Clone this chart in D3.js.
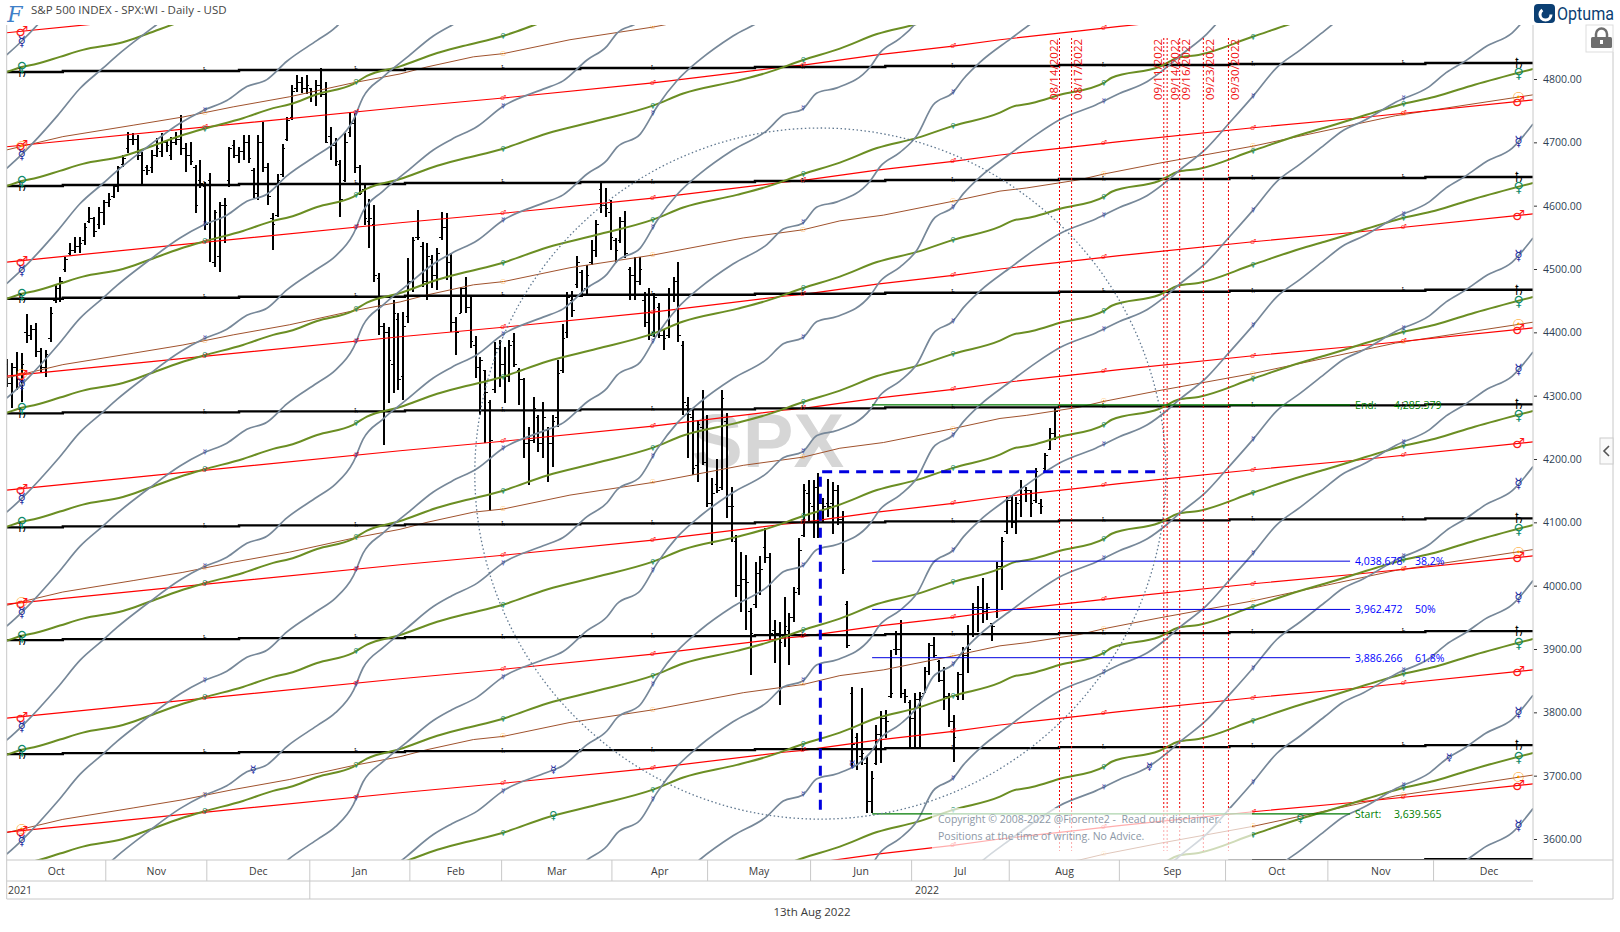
<!DOCTYPE html>
<html>
<head>
<meta charset="utf-8">
<script src="https://cdnjs.cloudflare.com/ajax/libs/d3/7.8.5/d3.min.js"></script>
<style>
  body { margin: 0; background: #fff; }
  text { font-family: "Open Sans", sans-serif; }
</style>
</head>
<body>
<div id="chart"></div>
<script>
// daily SPX bars
let barHighs = [
  4358,4352,4369,4367,4429,4412,4415,4375,4372,4440,
  4475,4487,4519,4541,4550,4550,4573,4598,4582,4598,
  4609,4620,4633,4663,4680,4716,4715,4712,4685,4664,
  4688,4707,4715,4704,4708,4716,4743,4699,4700,4664,
  4672,4637,4651,4593,4606,4612,4693,4704,4693,4712,
  4712,4659,4712,4732,4667,4588,4650,4697,4740,4790,
  4806,4803,4806,4786,4798,4817,4795,4724,4707,4672,
  4715,4746,4746,4664,4633,4610,4601,4494,4415,4408,
  4451,4431,4432,4517,4550,4593,4543,4541,4522,4533,
  4590,4588,4525,4424,4472,4487,4456,4394,4361,4340,
  4293,4385,4388,4377,4388,4399,4344,4328,4250,4298,
  4269,4290,4250,4269,4356,4413,4464,4465,4520,4498,
  4506,4546,4577,4636,4628,4609,4549,4582,4592,4503,
  4519,4519,4464,4470,4462,4446,4404,4470,4487,4511,
  4386,4298,4277,4262,4309,4269,4170,4200,4309,4273,
  4156,4080,4053,4048,3965,4037,4047,4091,4051,3946,
  3943,3982,3957,3998,4075,4160,4167,4167,4178,4138,
  4168,4164,4159,4118,3976,3840,3767,3838,3729,3707,
  3780,3802,3804,3898,3928,3946,3837,3819,3830,3832,
  3871,3909,3919,3883,3871,3830,3796,3864,3903,3938,
  3973,4000,4012,3973,3941,4037,4077,4140,4143,4140,
  4167,4156,4151,4186,4137,4209,4249,4280
];
let barLows = [
  4314,4281,4309,4290,4383,4388,4361,4337,4329,4385,
  4446,4448,4495,4522,4525,4525,4538,4573,4550,4563,
  4569,4598,4612,4622,4661,4683,4696,4672,4633,4648,
  4652,4677,4677,4685,4672,4696,4680,4653,4664,4588,
  4628,4562,4511,4503,4495,4541,4629,4675,4667,4672,
  4667,4612,4609,4653,4601,4530,4582,4645,4702,4735,
  4779,4778,4776,4764,4757,4771,4699,4672,4663,4582,
  4637,4708,4651,4617,4569,4533,4479,4396,4222,4288,
  4304,4309,4293,4415,4464,4546,4472,4451,4470,4467,
  4546,4483,4400,4364,4430,4430,4375,4328,4269,4225,
  4118,4304,4314,4288,4322,4345,4285,4202,4159,4225,
  4211,4202,4164,4187,4250,4336,4391,4424,4470,4456,
  4457,4506,4519,4588,4582,4530,4509,4541,4517,4451,
  4451,4475,4408,4388,4393,4391,4372,4391,4448,4385,
  4269,4202,4175,4164,4190,4124,4064,4146,4151,4107,
  4069,3982,3958,3930,3859,3965,3985,4036,3914,3878,
  3811,3903,3875,3943,3985,4077,4100,4075,4075,4099,
  4108,4081,4096,4018,3901,3712,3709,3717,3641,3641,
  3717,3720,3759,3823,3890,3823,3815,3744,3744,3744,
  3830,3859,3886,3848,3804,3777,3722,3819,3819,3862,
  3919,3927,3941,3946,3913,3949,3993,4081,4091,4081,
  4108,4132,4108,4130,4113,4179,4214,4230
];
let barOpens = [
  4350,4320,4345,4325,4400,4395,4405,4370,4345,4390,
  4450,4470,4500,4525,4530,4535,4545,4575,4580,4570,
  4590,4605,4615,4630,4665,4690,4705,4705,4680,4660,
  4660,4680,4685,4700,4680,4700,4705,4690,4680,4660,
  4640,4630,4640,4510,4520,4600,4640,4695,4680,4685,
  4700,4655,4620,4700,4660,4580,4585,4650,4705,4740,
  4785,4795,4785,4785,4780,4790,4775,4710,4695,4665,
  4640,4715,4730,4660,4625,4575,4570,4485,4410,4400,
  4350,4420,4330,4425,4480,4550,4535,4480,4515,4490,
  4550,4565,4510,4415,4430,4470,4440,4380,4345,4340,
  4290,4310,4375,4350,4330,4385,4340,4325,4225,4230,
  4265,4225,4245,4225,4265,4340,4400,4450,4475,4495,
  4470,4510,4530,4625,4600,4590,4545,4545,4575,4500,
  4490,4480,4450,4415,4400,4440,4395,4395,4460,4480,
  4380,4285,4265,4190,4250,4195,4130,4160,4155,4260,
  4125,4070,4000,4010,3960,3970,4020,4060,4045,3930,
  3925,3920,3930,3950,3995,4080,4145,4125,4155,4130,
  4130,4130,4150,4105,3970,3830,3760,3730,3720,3660,
  3720,3765,3790,3825,3900,3900,3830,3815,3790,3820,
  3830,3865,3905,3880,3850,3825,3785,3825,3860,3890,
  3925,3965,3965,3960,3940,3960,4030,4085,4135,4100,
  4135,4150,4150,4135,4130,4185,4215,4240
];
let barCloses = [
  4320,4345,4325,4350,4395,4405,4370,4345,4365,4430,
  4470,4480,4515,4530,4535,4540,4565,4580,4560,4590,
  4605,4610,4630,4660,4675,4705,4705,4680,4655,4655,
  4680,4690,4700,4695,4700,4705,4690,4680,4670,4600,
  4635,4570,4575,4590,4600,4600,4690,4680,4685,4700,
  4675,4620,4700,4660,4615,4570,4640,4690,4735,4780,
  4795,4785,4790,4780,4790,4775,4700,4695,4670,4610,
  4700,4730,4660,4620,4580,4580,4490,4410,4400,4355,
  4430,4325,4410,4480,4545,4550,4480,4520,4490,4525,
  4565,4510,4415,4400,4470,4440,4385,4345,4355,4305,
  4230,4375,4350,4330,4380,4350,4325,4225,4230,4280,
  4225,4265,4225,4260,4335,4390,4455,4435,4510,4465,
  4490,4530,4570,4600,4595,4550,4530,4575,4525,4490,
  4480,4500,4415,4395,4455,4395,4390,4460,4480,4395,
  4290,4270,4185,4255,4195,4130,4145,4150,4295,4125,
  4125,4000,4010,4005,3925,4020,4025,4045,3925,3925,
  3910,3935,3950,3990,4055,4150,4130,4155,4130,4125,
  4125,4150,4105,4025,3905,3750,3720,3735,3660,3695,
  3765,3790,3785,3830,3900,3830,3825,3790,3820,3825,
  3865,3905,3890,3850,3825,3785,3760,3860,3890,3900,
  3965,3965,3960,3965,3935,4030,4070,4135,4100,4130,
  4155,4150,4130,4180,4125,4205,4240,4275
];

// planetary lines: each family is one rise profile (price above start, by axis position)
// repeated at several start prices
let mercuryDays = [0,3.1,10.5,15,19.7,22.6,28.7,35.5,40.2,45.1,49.2,53.3,57.4,63.6,67.3,71,73,77.1,82,87.4,91.2,96.4,101.7,109.9,114,118.9,123,125,129.8,133.3,137.4,142.1,148.8,155.8,159.1,163,166,170.1,176.9,179,183,186.5,189.8,193.9,196,199.5,205.6,211.1,215.8,223.2,228.1,233.9,238,240.4,246.2,250.7,255.8,260.7,265.6,270.6,274.3,278.7,285.5,292.3,295.8,299.9,304,309.5,313.8];
let mercuryRise = [0,22,84,126,158,178,215,253,273,289,311,322,351,384,404,439,475,507,538,572,589,609,641,668,681,714,736,756,777,821,862,895,932,963,987,996,1022,1030,1063,1086,1108,1135,1183,1203,1224,1251,1287,1318,1341,1364,1382,1401,1424,1440,1476,1514,1558,1603,1631,1661,1683,1699,1729,1753,1775,1794,1816,1838,1876];
let mercuryStarts = [4838,4659,4477,4296,4116,3936,3756,3576,3395,3215,3035,2853,2673,2493,2312,2132,1951,1772];

let venusDays = [0,3.1,6.2,10.9,15.6,23.8,28.7,35.5,40.2,48.4,54.6,58,63.6,71,73.8,80.6,88.2,93.5,101.7,110.7,120.9,132.4,138.6,149.6,155.8,163.2,170.7,178.3,186.5,193.9,203.5,206,210.1,215.8,224.9,226.5,236.3,240.4,244.5,255.8,265.6,270.6,281.2,286.1,293.5,301.7,313.8];
let venusRise = [0,8,13,24,35,47,60,79,90,107,123,129,145,161,174,189,210,221,237,261,281,305,324,344,357,377,395,418,434,453,474,483,489,502,521,529,546,561,565,594,619,630,655,666,679,698,723];
let venusStarts = [4811,4631,4453,4273,4093,3913,3733,3553,3373,3193,3013];

let marsDays = [0,80.6,101.7,132.4,159.1,163.2,178.3,193.9,203.5,219.9,228.1,255.8,277,313.8];
let marsRise = [0,62,77,101,126,129,145,159,169,183,190,212,227,256];
let marsStarts = [4873,4693,4511,4331,4151,3971,3791,3611,3431];

let sunDays = [0,11.5,25.9,36.1,46.4,58,71,80.6,86.1,95.6,101.7,115.4,132.4,150.9,163.2,170.7,179.6,193.9,203.5,209,219.9,224.9,236.3,255.8,285.3,313.8];
let sunRise = [0,21,39,52,68,84,106,120,131,147,152,174,194,221,234,248,257,279,295,300,313,322,339,366,414,447];
let sunStarts = [4688,4328,3969,3610,3254];

let saturnDays = [0,11.5,47.6,81.6,117.5,153.3,180,215.6,250.9,291.5,313.8];
let saturnRise = [0,1.6,3.2,4.7,6.3,7.9,9.5,11.1,12.6,14.2,14.2];
let saturnStarts = [4811,4631,4453,4272,4092,3914,3734,3554];

// axis positions where the planet glyphs sit
let glyphDays = [40.6,71.6,101.7,132.4,163.2,193.9,224.9,255.8,287];
let bigGlyphDays = [3.1,310.8];
let mercuryExtra = [[50.5,3395],[112,3035],[173.2,2673],[234.3,2312],[296.4,1951]];
let venusExtra = [[112,3373],[265.6,3013]];

// fib levels and the swing
let fibPrices = [4038.678, 3962.472, 3886.266];
let fibLabels = ["4,038.678", "3,962.472", "3,886.266"];
let fibPercents = ["38.2%", "50%", "61.8%"];
let swingPrices = [4285.379, 3639.565];
let swingNames = ["End:", "Start:"];
let swingLabels = ["4,285.379", "3,639.565"];
let fibStartDay = 177.3;
let fibEndDay = 275.9;

// circle centre, radius on the price scale, and the dashed square
let circleDay = 166.7;
let circlePrice = 4177;
let circleRadius = 545.6;
let squareTopPrice = 4180;
let squareBottomPrice = 3646;
let squareEndDay = 236.9;

// cycle dates
let cycleDates = ["08/14/2022","08/17/2022","09/11/2022","09/14/2022","09/16/2022","09/23/2022","09/30/2022"];
let cycleDays = [215.7,218.2,237.3,238,240.6,245.5,250.7];
let cycleLabelDays = [214.6,219.5,236.1,239.6,241.9,246.9,252];

// time axis
let monthNames = ["Oct","Nov","Dec","Jan","Feb","Mar","Apr","May","Jun","Jul","Aug","Sep","Oct","Nov","Dec"];
let monthStarts = [0,20.3,41,62.1,82.6,101.4,124,143.6,164.7,185.4,205.4,228.1,250.1,271.3,293.2];
let lastMonthEnd = 316.2;
let axisEndDay = 313.8;
let yearNames = ["2021","2022"];
let yearStarts = [0,62.1];
let priceTicks = [4800,4700,4600,4500,4400,4300,4200,4100,4000,3900,3800,3700,3600];

let svgWidth = 1620;
let svgHeight = 932;
let plot = { left: 6.7, right: 1533, top: 25, bottom: 860 };
let panelRight = 1613;

let svg = d3.select("#chart").append("svg")
  .attr("width", svgWidth)
  .attr("height", svgHeight)
  .style("display", "block");

// future bars are a little tighter than the traded ones
let timeX = d3.scaleLinear().domain([0, 215.8, axisEndDay]).range([plot.left, 1060, plot.right]);
let barX = d3.scaleLinear().domain([0, 217]).range([7.3, 1055]);
let y = d3.scaleLinear().domain([3600, 4800]).range([839, 79]);

svg.append("clipPath").attr("id", "plotClip").append("rect")
  .attr("x", plot.left).attr("y", plot.top)
  .attr("width", plot.right - plot.left).attr("height", plot.bottom - plot.top);

let chartGroup = svg.append("g").attr("clip-path", "url(#plotClip)");

chartGroup.append("text")
  .attr("x", 692).attr("y", 467)
  .attr("fill", "#d6d6d6")
  .attr("font-size", "76px")
  .attr("font-weight", "bold")
  .style("font-family", "'Liberation Sans', sans-serif")
  .text("SPX");

// bars
let bars = chartGroup.append("g").attr("stroke", "#000").attr("shape-rendering", "crispEdges");
bars.selectAll("line.hl")
  .data(barHighs)
  .enter().append("line")
  .attr("class", "hl")
  .attr("x1", (d, i) => barX(i)).attr("x2", (d, i) => barX(i))
  .attr("y1", d => y(d)).attr("y2", (d, i) => y(barLows[i]))
  .attr("stroke-width", 2);
bars.selectAll("line.open")
  .data(barOpens)
  .enter().append("line")
  .attr("class", "open")
  .attr("x1", (d, i) => barX(i) - 2.5).attr("x2", (d, i) => barX(i))
  .attr("y1", d => y(d)).attr("y2", d => y(d))
  .attr("stroke-width", 1);
bars.selectAll("line.close")
  .data(barCloses)
  .enter().append("line")
  .attr("class", "close")
  .attr("x1", (d, i) => barX(i)).attr("x2", (d, i) => barX(i) + 2.5)
  .attr("y1", d => y(d)).attr("y2", d => y(d))
  .attr("stroke-width", 1);

function drawFamily(starts, days, rise, color, width, curve) {
  let line = d3.line()
    .x(d => timeX(d[0]))
    .y(d => y(d[1]))
    .curve(curve);
  chartGroup.append("g").selectAll("path")
    .data(starts)
    .enter().append("path")
    .attr("d", s => line(days.map((d, i) => [d, s + rise[i]])))
    .attr("fill", "none")
    .attr("stroke", color)
    .attr("stroke-width", width);
}

drawFamily(sunStarts, sunDays, sunRise, "#a0522d", 1, d3.curveLinear);
drawFamily(marsStarts, marsDays, marsRise, "#ff0000", 1.2, d3.curveLinear);
drawFamily(saturnStarts, saturnDays, saturnRise, "#000", 2.4, d3.curveStepAfter);
drawFamily(venusStarts, venusDays, venusRise, "#6b8e23", 2, d3.curveMonotoneX);
drawFamily(mercuryStarts, mercuryDays, mercuryRise, "#778899", 1.7, d3.curveMonotoneX);

// planet glyphs along the lines, only where the line is inside the plot
function drawGlyphs(starts, days, rise, symbol, color, size, columns) {
  let riseAt = d3.scaleLinear().domain(days).range(rise);
  columns.forEach(function(day) {
    let visible = starts.filter(function(s) {
      let py = y(s + riseAt(day));
      return py > plot.top + 1 && py < plot.bottom - 3;
    });
    chartGroup.append("g").selectAll("text")
      .data(visible)
      .enter().append("text")
      .attr("x", timeX(day))
      .attr("y", s => y(s + riseAt(day)))
      .attr("text-anchor", "middle")
      .attr("dominant-baseline", "central")
      .attr("fill", color)
      .attr("font-size", size + "px")
      .attr("font-weight", size > 10 ? "bold" : "normal")
      .style("font-family", "'DejaVu Sans', sans-serif")
      .text(symbol);
  });
}

let families = [
  [sunStarts, sunDays, sunRise, "\u2609", "#ff9800"],
  [marsStarts, marsDays, marsRise, "\u2642", "#ff1a1a"],
  [saturnStarts, saturnDays, saturnRise, "\u2644", "#000"],
  [venusStarts, venusDays, venusRise, "\u2640", "#0f8a6a"],
  [mercuryStarts, mercuryDays, mercuryRise, "\u263F", "#1f2f9f"]
];
families.forEach(function(f) {
  drawGlyphs(f[0], f[1], f[2], f[3], f[4], 7, glyphDays);
  drawGlyphs(f[0], f[1], f[2], f[3], f[4], 14, bigGlyphDays);
});
mercuryExtra.forEach(d => drawGlyphs([d[1]], mercuryDays, mercuryRise, "\u263F", "#1f2f9f", 11, [d[0]]));
venusExtra.forEach(d => drawGlyphs([d[1]], venusDays, venusRise, "\u2640", "#0f8a6a", 11, [d[0]]));

// fib lines
chartGroup.append("g").selectAll("line")
  .data(fibPrices)
  .enter().append("line")
  .attr("x1", timeX(fibStartDay)).attr("x2", timeX(fibEndDay))
  .attr("y1", d => y(d)).attr("y2", d => y(d))
  .attr("stroke", "#0000e0").attr("stroke-width", 1);
chartGroup.append("g").selectAll("line")
  .data(swingPrices)
  .enter().append("line")
  .attr("x1", timeX(fibStartDay)).attr("x2", timeX(fibEndDay))
  .attr("y1", d => y(d)).attr("y2", d => y(d))
  .attr("stroke", "#007a00").attr("stroke-width", 1.2);

let labelX = timeX(fibEndDay) + 5;
let fibText = svg.append("g").attr("fill", "#0000ff").attr("font-size", "10.5px");
fibPrices.forEach(function(p, i) {
  fibText.append("text").attr("x", labelX).attr("y", y(p) + 4).text(fibLabels[i]);
  fibText.append("text").attr("x", labelX + 60).attr("y", y(p) + 4).text(fibPercents[i]);
});
let swingText = svg.append("g").attr("fill", "#008000").attr("font-size", "10.5px");
swingPrices.forEach(function(p, i) {
  swingText.append("text").attr("x", labelX).attr("y", y(p) + 4).text(swingNames[i]);
  swingText.append("text").attr("x", labelX + 39).attr("y", y(p) + 4).text(swingLabels[i]);
});

// dotted circle and dashed square
chartGroup.append("circle")
  .attr("cx", timeX(circleDay))
  .attr("cy", y(circlePrice))
  .attr("r", y(circlePrice - circleRadius) - y(circlePrice))
  .attr("fill", "none")
  .attr("stroke", "#607890")
  .attr("stroke-width", 1.3)
  .attr("stroke-dasharray", "1.5,2.5");
chartGroup.append("path")
  .attr("d", d3.line()([
    [timeX(circleDay), y(squareBottomPrice)],
    [timeX(circleDay), y(squareTopPrice)],
    [timeX(squareEndDay), y(squareTopPrice)]
  ]))
  .attr("fill", "none")
  .attr("stroke", "#0000e0")
  .attr("stroke-width", 3)
  .attr("stroke-dasharray", "10,7");

// cycle date markers
chartGroup.append("g").selectAll("line")
  .data(cycleDays)
  .enter().append("line")
  .attr("x1", d => timeX(d)).attr("x2", d => timeX(d))
  .attr("y1", 38).attr("y2", 851)
  .attr("stroke", "#f00000").attr("stroke-width", 1)
  .attr("stroke-dasharray", "2,2");
svg.append("g").selectAll("text")
  .data(cycleDates)
  .enter().append("text")
  .attr("transform", (d, i) => `translate(${timeX(cycleLabelDays[i]) + 4}, 100) rotate(-90)`)
  .attr("fill", "#f01010")
  .attr("font-size", "11.5px")
  .text(d => d);

// copyright sits on a pale box that washes out the lines behind it
svg.append("rect")
  .attr("x", 932).attr("y", 808).attr("width", 320).attr("height", 52)
  .attr("fill", "#fff").attr("opacity", 0.68);
svg.append("g").attr("fill", "#8d98a6").attr("font-size", "10.5px")
  .selectAll("text")
  .data(["Copyright \u00A9 2008-2022 @Fiorente2 -  Read our disclaimer.", "Positions at the time of writing. No Advice."])
  .enter().append("text")
  .attr("x", 938)
  .attr("y", (d, i) => 823 + i * 17)
  .attr("xml:space", "preserve")
  .text(d => d);

// frames and time axis strips
let frame = svg.append("g").attr("stroke", "#c8c8c8").attr("stroke-width", 1);
frame.append("line").attr("x1", plot.left).attr("x2", plot.left).attr("y1", plot.top).attr("y2", 899);
frame.append("line").attr("x1", plot.right).attr("x2", plot.right).attr("y1", plot.top).attr("y2", 860);
frame.append("line").attr("x1", plot.left).attr("x2", panelRight).attr("y1", 860).attr("y2", 860);
frame.append("line").attr("x1", plot.left).attr("x2", plot.right).attr("y1", 881).attr("y2", 881);
frame.append("line").attr("x1", plot.left).attr("x2", panelRight).attr("y1", 899).attr("y2", 899);
frame.append("line").attr("x1", panelRight).attr("x2", panelRight).attr("y1", 52).attr("y2", 899);

frame.selectAll("line.month")
  .data(monthStarts.slice(1))
  .enter().append("line")
  .attr("class", "month")
  .attr("x1", d => timeX(d)).attr("x2", d => timeX(d))
  .attr("y1", 860).attr("y2", 881);
frame.append("line")
  .attr("x1", timeX(yearStarts[1])).attr("x2", timeX(yearStarts[1]))
  .attr("y1", 881).attr("y2", 899);

let axisColor = "#3a3a3a";
svg.append("g").selectAll("text")
  .data(monthNames)
  .enter().append("text")
  .attr("x", (d, i) => timeX(((i < monthStarts.length - 1 ? monthStarts[i + 1] : lastMonthEnd) + monthStarts[i]) / 2))
  .attr("y", 875)
  .attr("text-anchor", "middle")
  .attr("fill", axisColor)
  .attr("font-size", "10.5px")
  .text(d => d);
svg.append("text").attr("x", 8).attr("y", 894).attr("fill", axisColor).attr("font-size", "10.5px").text(yearNames[0]);
svg.append("text").attr("x", 927).attr("y", 894).attr("text-anchor", "middle").attr("fill", axisColor).attr("font-size", "10.5px").text(yearNames[1]);
svg.append("text").attr("x", 812).attr("y", 916).attr("text-anchor", "middle").attr("fill", axisColor).attr("font-size", "11.5px").text("13th Aug 2022");

// price axis
let yAxis = d3.axisRight(y)
  .tickValues(priceTicks)
  .tickFormat(d3.format(".2f"))
  .tickSize(3)
  .tickPadding(6);
let yAxisGroup = svg.append("g")
  .attr("transform", `translate(${plot.right + 1}, 0)`)
  .call(yAxis);
yAxisGroup.select(".domain").remove();
yAxisGroup.selectAll("text")
  .attr("fill", "#2f3f55")
  .attr("font-size", "10.5px")
  .style("font-family", "'Open Sans', sans-serif");
yAxisGroup.selectAll("line").attr("stroke", "#333");

// header
svg.append("text").attr("x", 31).attr("y", 14).attr("fill", "#444").attr("font-size", "11.5px")
  .text("S&P 500 INDEX - SPX:WI - Daily - USD");
svg.append("text").attr("x", 15).attr("y", 22).attr("text-anchor", "middle")
  .attr("fill", "#3f7fc8").attr("font-size", "22px").attr("font-style", "italic")
  .style("font-family", "'DejaVu Serif', serif").text("F");

// Optuma badge
svg.append("rect").attr("x", 1534).attr("y", 4).attr("width", 21).attr("height", 19).attr("rx", 4).attr("fill", "#0b3f73");
svg.append("circle").attr("cx", 1545.5).attr("cy", 14.5).attr("r", 5.5).attr("fill", "none").attr("stroke", "#fff").attr("stroke-width", 3).attr("stroke-dasharray", "22,13");
svg.append("text").attr("x", 1557).attr("y", 20).attr("fill", "#0b3f73").attr("font-size", "18px")
  .attr("textLength", 57).attr("lengthAdjust", "spacingAndGlyphs")
  .style("font-family", "Roboto, sans-serif").text("Optuma");

// lock button and side tab
svg.append("rect").attr("x", 1586).attr("y", 25).attr("width", 27).attr("height", 27).attr("fill", "#fff").attr("stroke", "#ddd");
svg.append("path").attr("d", "M1596 38 v-4 a5.5 5.5 0 0 1 11 0 v4").attr("fill", "none").attr("stroke", "#6e6e6e").attr("stroke-width", 2.5);
svg.append("rect").attr("x", 1591).attr("y", 37).attr("width", 21).attr("height", 11).attr("rx", 1.5).attr("fill", "#6e6e6e");
svg.append("rect").attr("x", 1600).attr("y", 40).attr("width", 3).attr("height", 4).attr("fill", "#fff");
svg.append("rect").attr("x", 1600).attr("y", 438).attr("width", 13).attr("height", 26).attr("fill", "#fafafa").attr("stroke", "#ccc");
svg.append("path").attr("d", "M1609 446 l-5 5 l5 5").attr("fill", "none").attr("stroke", "#555").attr("stroke-width", 1.6);
</script>
</body>
</html>
